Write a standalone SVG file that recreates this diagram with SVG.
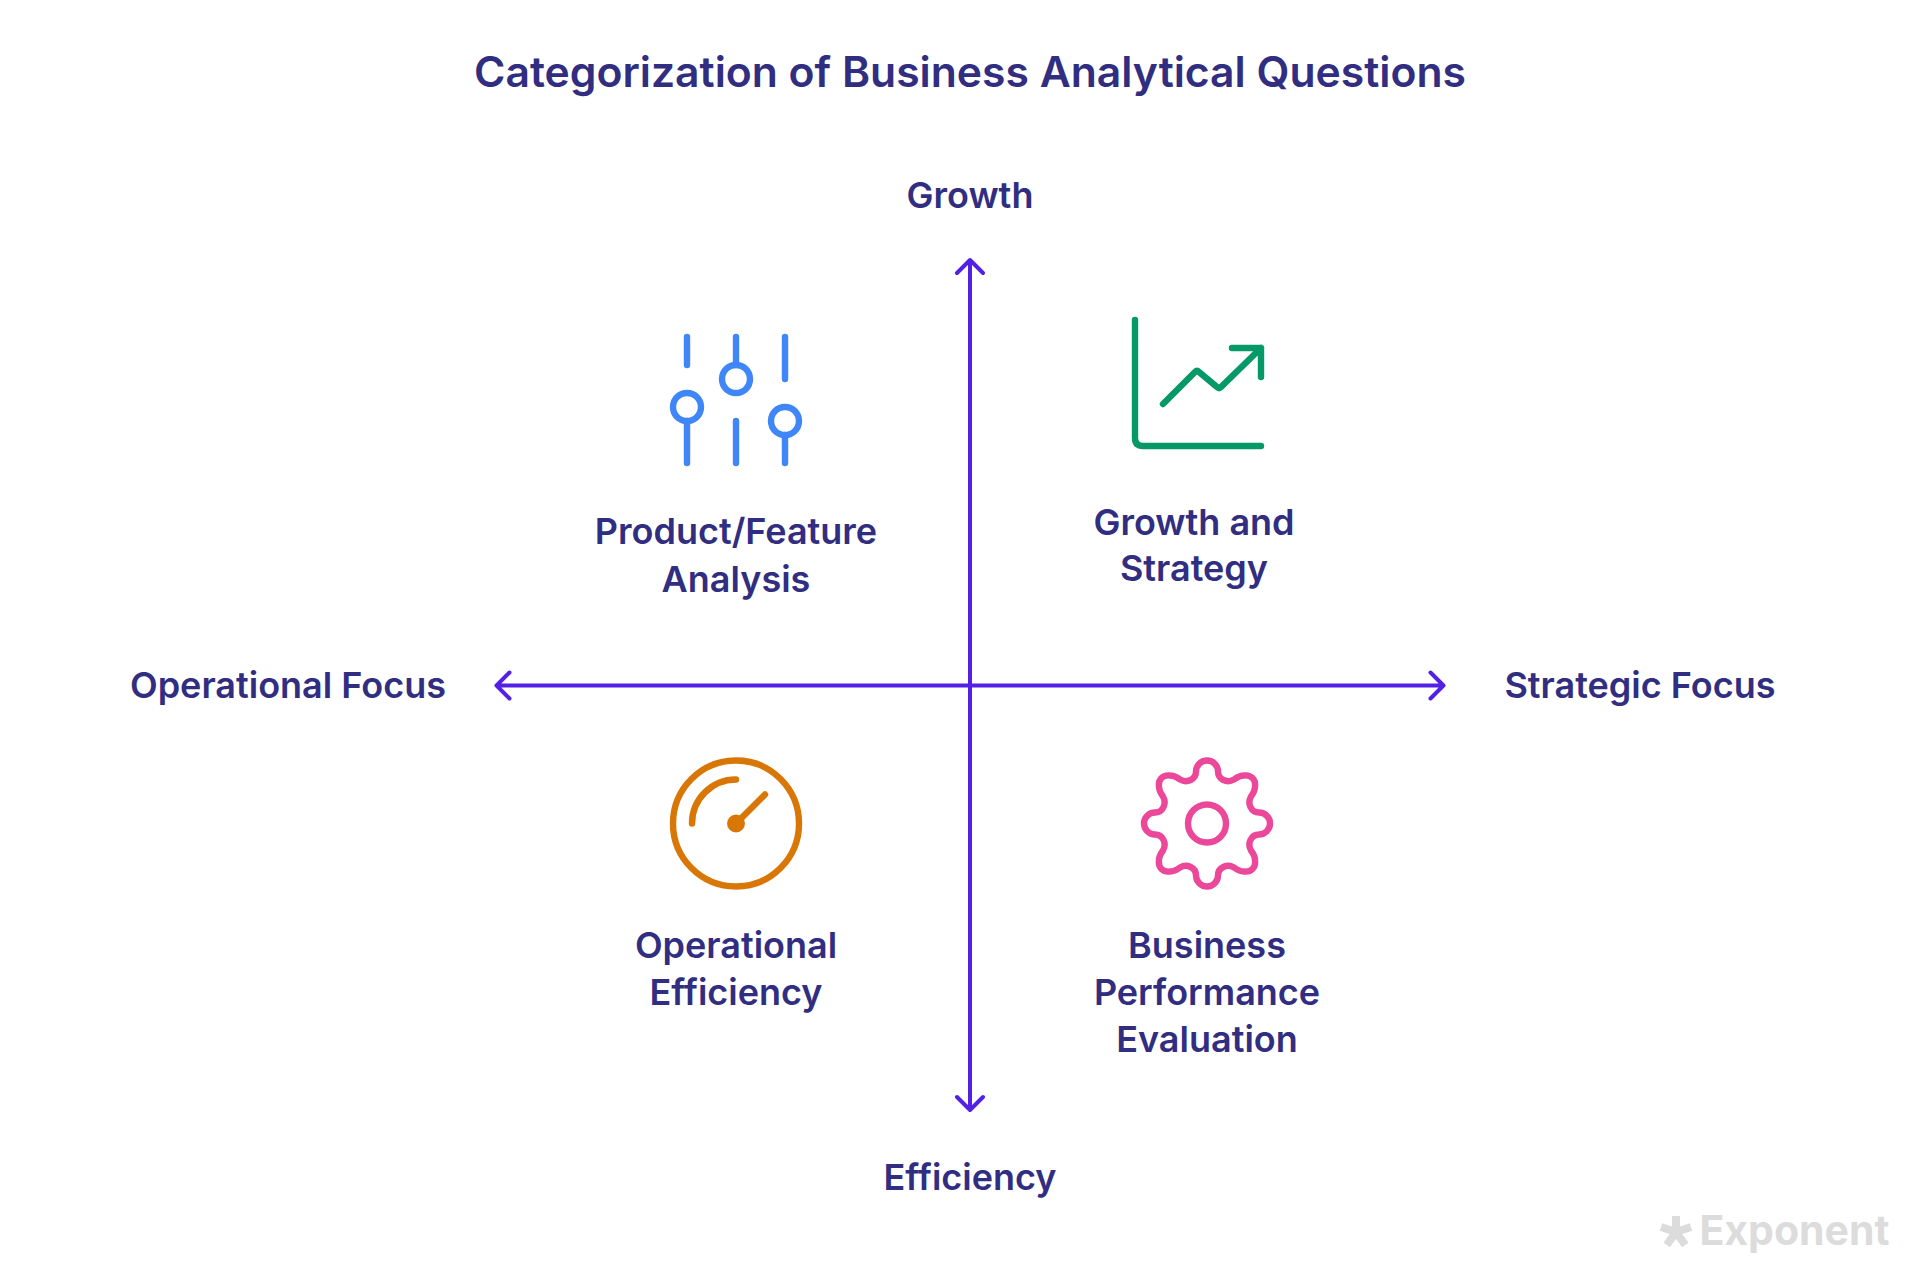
<svg xmlns="http://www.w3.org/2000/svg" width="1920" height="1280" viewBox="0 0 1920 1280">
<style>
text{font-family:"Inter","Liberation Sans",sans-serif;font-weight:600;fill:#312e81;text-anchor:middle}
.t{font-size:42.670px}
.l{font-size:36px}
.a{fill:none;stroke:#5321e3;stroke-width:4;stroke-linecap:round;stroke-linejoin:round}
.i{fill:none;stroke-width:6.400;stroke-linecap:round;stroke-linejoin:round}
</style>
<rect width="1920" height="1280" fill="#fff"/>
<text class="t" x="970" y="87">Categorization of Business Analytical Questions</text>
<g id="connectors">
<path class="a" d="M970 260V1110M957 273L970 260L983 273M957 1097L970 1110L983 1097"/>
<path class="a" d="M496.500 685.500H1443.500M509.500 672.500L496.500 685.500L509.500 698.500M1430.500 672.500L1443.500 685.500L1430.500 698.500"/>
</g>
<g id="axis-growth"><text class="l" x="970" y="207.500">Growth</text></g>
<g id="axis-efficiency"><text class="l" x="970" y="1189.500">Efficiency</text></g>
<g id="axis-operational"><text class="l" x="288" y="698">Operational Focus</text></g>
<g id="axis-strategic"><text class="l" x="1640" y="698">Strategic Focus</text></g>
<g id="product-feature">
<g class="i" stroke="#3f86f8">
<path d="M687 337V365M687 421V463M736 337V365M736 421V463M785 337V379M785 435V463"/>
<circle cx="687" cy="407" r="14"/><circle cx="736" cy="379" r="14"/><circle cx="785" cy="421" r="14"/>
</g>
<text class="l" x="736" y="544">Product/Feature</text>
<text class="l" x="736" y="591.500">Analysis</text>
</g>
<g id="growth-strategy">
<g class="i" stroke="#069968">
<path d="M1135 320V438Q1135 446 1143 446H1261M1163 404L1195 372Q1197 370 1199 372L1217 387Q1219 389 1221 387L1261 348M1232 348H1261V377"/>
</g>
<text class="l" x="1194" y="534.500">Growth and</text>
<text class="l" x="1194" y="581">Strategy</text>
</g>
<g id="operational-efficiency">
<g class="i" stroke="#d97706">
<circle cx="736" cy="823.500" r="63"/>
<path d="M692 823.500A44 44 0 0 1 736 779.500M736 823.500L765 794.500"/>
</g>
<circle cx="736" cy="823.500" r="9" fill="#d97706"/>
<text class="l" x="736" y="958">Operational</text>
<text class="l" x="736" y="1005">Efficiency</text>
</g>
<g id="business-performance">
<g class="i" stroke="#ec4899">
<circle cx="1207" cy="823.500" r="19"/>
<path transform="translate(1207 823.500)" d="M0 -63C6 -63 11 -58 11 -52C11 -44 20 -40 27 -44C31 -47 34 -48 37 -48C44 -49 49 -44 48 -37C48 -34 47 -31 44 -27C40 -20 44 -11 52 -11C58 -11 63 -6 63 0C63 6 58 11 52 11C44 11 40 20 44 27C47 31 48 34 48 37C49 44 44 49 37 48C34 48 31 47 27 44C20 40 11 44 11 52C11 58 6 63 0 63C-6 63 -11 58 -11 52C-11 44 -20 40 -27 44C-31 47 -34 48 -37 48C-44 49 -49 44 -48 37C-48 34 -47 31 -44 27C-40 20 -44 11 -52 11C-58 11 -63 6 -63 0C-63 -6 -58 -11 -52 -11C-44 -11 -40 -20 -44 -27C-47 -31 -48 -34 -48 -37C-49 -44 -44 -49 -37 -48C-34 -48 -31 -47 -27 -44C-20 -40 -11 -44 -11 -52C-11 -58 -6 -63 0 -63Z"/>
</g>
<text class="l" x="1207" y="958">Business</text>
<text class="l" x="1207" y="1005">Performance</text>
<text class="l" x="1207" y="1052">Evaluation</text>
</g>
<g id="watermark">
<path d="M1676 1232V1216M1676 1232L1691 1227M1676 1232L1685.300 1245M1676 1232L1666.700 1245M1676 1232L1661 1227" fill="none" stroke="#dcdcdc" stroke-width="8"/>
<text x="1794.500" y="1245" style="font-size:41px;font-weight:700;fill:#dcdcdc">Exponent</text>
</g>
</svg>
